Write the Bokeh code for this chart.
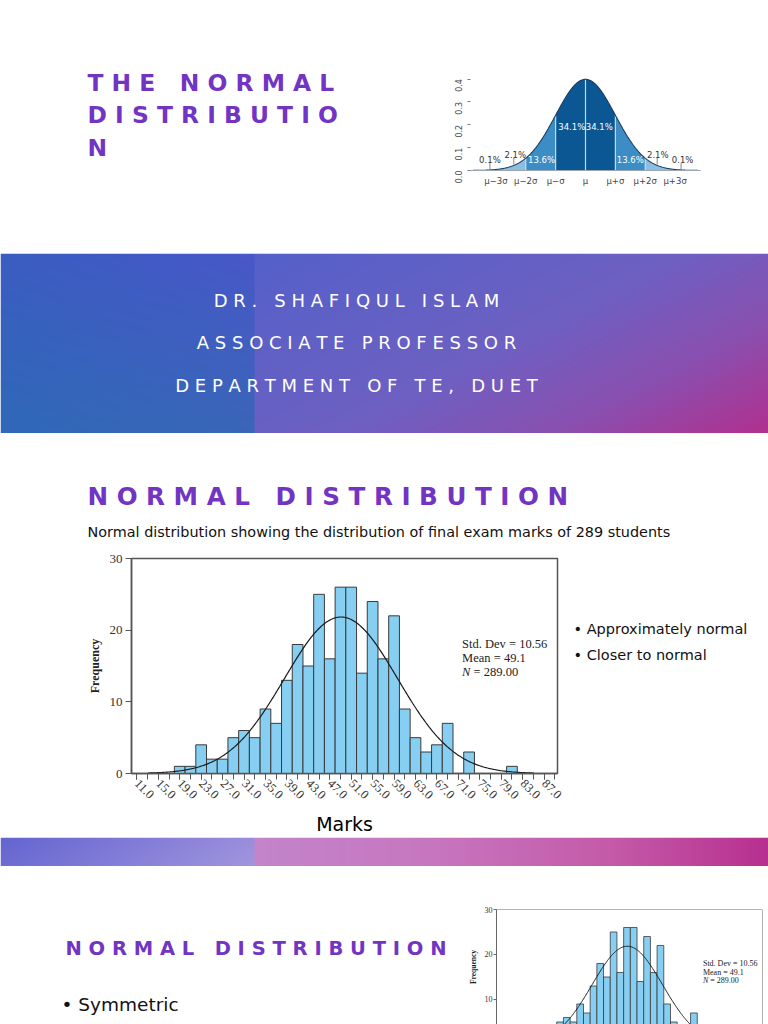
import numpy as np
from math import pi
from bokeh.plotting import figure
from bokeh.layouts import column, row
from bokeh.models import Range1d, FixedTicker, PrintfTickFormatter, Span
from bokeh.core.properties import value
from bokeh.embed import file_html
from bokeh.resources import INLINE

# ------------------------------------------------------------------ data
TITLE_LINES = ["THE NORMAL", "DISTRIBUTIO", "N"]
AUTHOR_LINES = ["DR. SHAFIQUL ISLAM", "ASSOCIATE PROFESSOR", "DEPARTMENT OF TE, DUET"]
SECTION_TITLE = "NORMAL DISTRIBUTION"
SUBTITLE = "Normal distribution showing the distribution of final exam marks of 289 students"
BULLETS_C = ["Approximately normal", "Closer to normal"]
BULLETS_E = ["Symmetric"]

SIGMA_TICKS = [-3, -2, -1, 0, 1, 2, 3]
SIGMA_LABELS = ["μ−3σ", "μ−2σ", "μ−σ", "μ", "μ+σ", "μ+2σ", "μ+3σ"]
PDF_TICKS = [0.0, 0.1, 0.2, 0.3, 0.4]
REGION_EDGES = [-3.85, -3, -2, -1, 0, 1, 2, 3, 3.85]
REGION_COLORS = ["#c6dcee", "#8dbde0", "#3c8dc5", "#0b5793",
                 "#0b5793", "#3c8dc5", "#8dbde0", "#c6dcee"]
DIVIDERS = [-2, -1, 0, 1, 2]
PCT_LABELS = ["0.1%", "2.1%", "13.6%", "34.1%", "34.1%", "13.6%", "2.1%", "0.1%"]
PCT_X = [-3.2, -2.35, -1.47, -0.46, 0.46, 1.5, 2.42, 3.25]
PCT_Y = [0.045, 0.07, 0.044, 0.19, 0.19, 0.044, 0.07, 0.045]
PCT_COLORS = ["#333333", "#333333", "white", "white", "white", "white", "#333333", "#333333"]
POINTER_X = [-3.2, -2.4, 2.4, 3.2]
POINTER_TOP = [0.032, 0.056, 0.056, 0.032]
POINTER_BOTTOM = [0.004, 0.026, 0.026, 0.004]

BIN_CENTERS = list(range(19, 70, 2)) + [73, 81]
COUNTS = [1, 1, 4, 2, 2, 5, 6, 5, 9, 7, 13, 18, 15, 25, 16, 26, 26, 14,
          24, 16, 22, 9, 5, 3, 4, 7, 3, 1]
BIN_WIDTH = 2
MEAN, STD_DEV, N_OBS = 49.1, 10.56, 289
X_MAJOR = list(range(11, 88, 4))
X_MINOR = list(range(11, 90, 2))
Y_TICKS = [0, 10, 20, 30]
STAT_LINES = ["Std. Dev = 10.56", "Mean = 49.1"]
STAT_N = "= 289.00"
STAT_X = 71.7
STAT_Y = [18.06, 16.1, 14.17]

PURPLE = "#7234c2"
BAR_FILL = "#87cff2"


# ------------------------------------------------------------------ helpers
def spaced(s):
    return " \u00a0 ".join(" ".join(w) for w in s.split(" "))


def npdf(x, mu=0.0, s=1.0):
    x = np.asarray(x, float)
    return np.exp(-0.5 * ((x - mu) / s) ** 2) / (s * np.sqrt(2 * np.pi))


def canvas(w, h, top=0, bottom=0):
    # a plain drawing area; its frame matches the borders of its row neighbour,
    # and data y = h - (pixels from the canvas top)
    p = figure(width=w, height=h, x_range=Range1d(0, w), y_range=Range1d(bottom, h - top),
               title=None, output_backend="svg", toolbar_location=None,
               x_axis_location=None, y_axis_location=None, min_border=0,
               min_border_top=top, min_border_bottom=bottom,
               outline_line_color=None, border_fill_color="white",
               background_fill_color="white")
    p.grid.visible = False
    return p


def txt(p, xs, tops, texts, size, color="black", font="DejaVu Sans", style="normal",
        align="left"):
    p.text(x=xs, y=[p.height - t for t in tops], text=texts, text_font=value(font),
           text_font_size=f"{size}px", text_font_style=style, text_color=color,
           text_align=align, text_baseline="middle")


def hex2rgb(h):
    return np.array([int(h[i:i + 2], 16) for i in (1, 3, 5)], float)


def bilinear(w, h, tl, tr, bl, br):
    u = np.linspace(0, 1, w)[None, :, None]
    v = np.linspace(0, 1, h)[:, None, None]
    tl, tr, bl, br = map(hex2rgb, (tl, tr, bl, br))
    return (1 - u) * (1 - v) * tl + u * (1 - v) * tr + (1 - u) * v * bl + u * v * br


def stops_grad(w, h, stops, wu, wv):
    u = np.linspace(0, 1, w)[None, :]
    v = np.linspace(0, 1, h)[:, None]
    t = np.clip(u * wu + v * wv, 0, 1)
    pos = [s[0] for s in stops]
    cols = np.array([hex2rgb(s[1]) for s in stops])
    out = np.zeros((h, w, 3))
    for c in range(3):
        out[..., c] = np.interp(t, pos, cols[:, c])
    return out


def to_rgba(arr):
    h, w = arr.shape[:2]
    img = np.empty((h, w), dtype=np.uint32)
    view = img.view(dtype=np.uint8).reshape((h, w, 4))
    view[..., :3] = np.clip(arr, 0, 255).astype(np.uint8)
    view[..., 3] = 255
    return np.ascontiguousarray(img[::-1])


def histogram(p, font_px, line_w):
    left = [c - BIN_WIDTH / 2 for c in BIN_CENTERS]
    right = [c + BIN_WIDTH / 2 for c in BIN_CENTERS]
    p.quad(left=left, right=right, bottom=0, top=COUNTS, fill_color=BAR_FILL,
           line_color="#3a3a3a", line_width=line_w)
    xs = np.linspace(MEAN - 3.41 * STD_DEV, MEAN + 3.41 * STD_DEV, 300)
    p.line(xs, N_OBS * BIN_WIDTH * npdf(xs, MEAN, STD_DEV), line_color="#1a1a1a",
           line_width=line_w * 1.2)
    common = dict(text_font=value("Liberation Serif"), text_font_size=f"{font_px}px",
                  text_color="#222222", text_baseline="middle")
    p.text(x=[STAT_X] * 2, y=STAT_Y[:2], text=STAT_LINES, **common)
    p.text(x=[STAT_X], y=[STAT_Y[2]], text=["N"], text_font_style="italic", **common)
    px_per_unit = (p.width - p.min_border_left - p.min_border_right) / 79.5
    n_w = (0.667 + 0.25) * font_px / px_per_unit
    p.text(x=[STAT_X + n_w], y=[STAT_Y[2]], text=[STAT_N], **common)


# ------------------------------------------------------------------ row A
A_H, A_TOP, A_BOTTOM = 253, 20, 83
fa = canvas(440, A_H, A_TOP, A_BOTTOM)
txt(fa, [87, 87, 87], [82, 114, 147], [spaced(t) for t in TITLE_LINES], 23.4,
    color=PURPLE, style="bold")

PX_PER_PDF = 96 / 0.42
fc = figure(width=328, height=A_H, x_range=Range1d(-3.85, 3.85),
            y_range=Range1d(0, (A_H - A_TOP - A_BOTTOM) / PX_PER_PDF),
            title=None, output_backend="svg", toolbar_location=None, min_border_left=30,
            min_border_right=68, min_border_top=A_TOP, min_border_bottom=A_BOTTOM,
            outline_line_color=None, background_fill_color="white", border_fill_color="white")
fc.grid.visible = False
for i in range(len(REGION_COLORS)):
    xs = np.linspace(REGION_EDGES[i], REGION_EDGES[i + 1], 40)
    fc.varea(x=xs, y1=np.zeros_like(xs), y2=npdf(xs), fill_color=REGION_COLORS[i])
fc.segment(x0=DIVIDERS, y0=[0] * len(DIVIDERS), x1=DIVIDERS, y1=list(npdf(DIVIDERS)),
           line_color="#c9d8e6", line_width=1.2)
xs_all = np.linspace(REGION_EDGES[0], REGION_EDGES[-1], 300)
fc.line(xs_all, npdf(xs_all), line_color="#1b3d5f", line_width=1.1)
fc.segment(x0=POINTER_X, y0=POINTER_BOTTOM, x1=POINTER_X, y1=POINTER_TOP,
           line_color="#666666", line_width=0.8)
fc.text(x=PCT_X, y=PCT_Y, text=PCT_LABELS, text_color=PCT_COLORS,
        text_font=value("DejaVu Sans"), text_font_size="8.5px",
        text_align="center", text_baseline="middle")
fc.xaxis.ticker = FixedTicker(ticks=SIGMA_TICKS)
fc.xaxis.major_label_overrides = {t: l for t, l in zip(SIGMA_TICKS, SIGMA_LABELS)}
fc.xaxis.major_tick_line_color = None
fc.xaxis.major_tick_out = 0
fc.xaxis.major_tick_in = 0
fc.xaxis.minor_tick_line_color = None
fc.xaxis.axis_line_color = "#9aa6b2"
fc.xaxis.major_label_standoff = 5
fc.xaxis.major_label_text_font = "DejaVu Sans"
fc.xaxis.major_label_text_font_size = "8.5px"
fc.xaxis.major_label_text_color = "#444444"
fc.yaxis.ticker = FixedTicker(ticks=PDF_TICKS)
fc.yaxis.formatter = PrintfTickFormatter(format="%.1f")
fc.yaxis.major_label_orientation = pi / 2
fc.yaxis.axis_line_color = None
fc.yaxis.minor_tick_line_color = None
fc.yaxis.major_tick_line_color = "#777777"
fc.yaxis.major_tick_out = 3
fc.yaxis.major_tick_in = 0
fc.yaxis.major_label_standoff = 9
fc.yaxis.major_label_text_font = "DejaVu Sans"
fc.yaxis.major_label_text_font_size = "8px"
fc.yaxis.major_label_text_color = "#444444"

# ------------------------------------------------------------------ row B (band)
B1H = 180
band1 = np.concatenate([
    bilinear(254, B1H, "#3b5dc2", "#4858c8", "#2f69b8", "#3a66b8"),
    stops_grad(514, B1H, [(0, "#5460ca"), (0.5, "#6e60c2"), (0.75, "#8a50b0"), (1, "#b2308f")],
               0.6, 0.4),
], axis=1)
fb = canvas(768, B1H)
fb.image_rgba(image=[to_rgba(band1)], x=0, y=0, dw=768, dh=B1H)
txt(fb, [356] * 3, [47, 89, 131.5], [spaced(t) for t in AUTHOR_LINES],
    18, color="white", align="center")

# ------------------------------------------------------------------ row C
fct = canvas(768, 115)
txt(fct, [87], [63], [spaced(SECTION_TITLE)], 24.6, color=PURPLE, style="bold")
txt(fct, [87], [98], [SUBTITLE], 14.4, color="#111111")

C_TOP, C_BOTTOM = 10, 63
H_W, H_RIGHT = 568, 11
fh = figure(width=H_W, height=289, x_range=Range1d(10, 89.5), y_range=Range1d(0, 30),
            title=None, output_backend="svg", toolbar_location=None, min_border_left=131,
            min_border_right=H_RIGHT, min_border_top=C_TOP, min_border_bottom=C_BOTTOM,
            outline_line_color="#555555", outline_line_width=1.5,
            background_fill_color="white", border_fill_color="white")
fh.grid.visible = False
histogram(fh, 12.5, 1.0)
fh.xaxis.ticker = FixedTicker(ticks=X_MAJOR, minor_ticks=X_MINOR)
fh.xaxis.formatter = PrintfTickFormatter(format="%.1f")
fh.xaxis.major_label_orientation = -pi / 4
fh.xaxis.major_tick_out = 6
fh.xaxis.major_tick_in = 0
fh.xaxis.minor_tick_out = 6
fh.xaxis.minor_tick_in = 0
fh.xaxis.major_label_standoff = 2
fh.xaxis.axis_label = "Marks"
fh.xaxis.axis_label_standoff = 7
fh.xaxis.axis_label_text_font = "DejaVu Sans"
fh.xaxis.axis_label_text_font_size = "19px"
fh.xaxis.axis_label_text_font_style = "normal"
fh.xaxis.axis_label_text_color = "black"
fh.yaxis.ticker = FixedTicker(ticks=Y_TICKS)
fh.yaxis.major_tick_out = 6
fh.yaxis.major_tick_in = 0
fh.yaxis.minor_tick_line_color = None
fh.yaxis.major_label_standoff = 3
fh.yaxis.axis_label = "Frequency"
fh.yaxis.axis_label_standoff = 5
fh.yaxis.axis_label_text_font = "Liberation Serif"
fh.yaxis.axis_label_text_font_size = "12px"
fh.yaxis.axis_label_text_font_style = "bold"
fh.yaxis.axis_label_text_color = "#222222"
for ax in (fh.xaxis, fh.yaxis):
    ax.axis_line_color = "#555555"
    ax.axis_line_width = 1.5
    ax.major_tick_line_color = "#555555"
    ax.major_label_text_font = "Liberation Serif"
    ax.major_label_text_color = "#333333"
fh.xaxis.minor_tick_line_color = "#555555"
fh.xaxis.major_label_text_font_size = "12.5px"
fh.yaxis.major_label_text_font_size = "13px"

fbul = canvas(768 - H_W, 289, C_TOP, C_BOTTOM)
txt(fbul, [573 - H_W] * 2, [81, 107], ["• " + b for b in BULLETS_C], 14.5, color="#111111")

# ------------------------------------------------------------------ row D (band)
B2H = 29
band2 = np.concatenate([
    bilinear(254, B2H, "#6565d0", "#9a8edc", "#6c6cd2", "#a096de"),
    stops_grad(514, B2H, [(0, "#c385ca"), (0.35, "#c776bf"), (0.7, "#c45aa8"), (1, "#b8308f")],
               1.0, 0.0),
], axis=1)
fb2 = canvas(768, B2H)
fb2.image_rgba(image=[to_rgba(band2)], x=0, y=0, dw=768, dh=B2H)

# ------------------------------------------------------------------ row E
E_TOP, E_BOTTOM = 43, 0
fe = canvas(460, 158, E_TOP, E_BOTTOM)
txt(fe, [65], [82], [spaced(SECTION_TITLE)], 19.5, color=PURPLE, style="bold")
txt(fe, [61], [138], ["• " + b for b in BULLETS_E], 18.5, color="#111111")

fs = figure(width=308, height=158, x_range=Range1d(10, 89.5), y_range=Range1d(4.44, 30),
            title=None, output_backend="svg", toolbar_location=None, x_axis_location=None,
            min_border_left=36, min_border_right=6, min_border_top=E_TOP,
            min_border_bottom=E_BOTTOM,
            outline_line_color=None, background_fill_color="white", border_fill_color="white")
fs.grid.visible = False
histogram(fs, 8, 0.8)
fs.yaxis.ticker = FixedTicker(ticks=Y_TICKS)
fs.yaxis.major_tick_out = 3
fs.yaxis.major_tick_in = 0
fs.yaxis.minor_tick_line_color = None
fs.yaxis.major_label_standoff = 1
fs.yaxis.axis_line_color = "#666666"
fs.yaxis.major_tick_line_color = "#666666"
fs.yaxis.major_label_text_font = "Liberation Serif"
fs.yaxis.major_label_text_font_size = "8px"
fs.yaxis.major_label_text_color = "#333333"
fs.yaxis.axis_label = "Frequency"
fs.yaxis.axis_label_standoff = 4
fs.yaxis.axis_label_text_font = "Liberation Serif"
fs.yaxis.axis_label_text_font_size = "7.5px"
fs.yaxis.axis_label_text_font_style = "bold"
fs.yaxis.axis_label_text_color = "#222222"
fs.add_layout(Span(location=30, dimension="width", line_color="#666666", line_width=1))
fs.add_layout(Span(location=89.5, dimension="height", line_color="#666666", line_width=1))

layout = column(
    row(fa, fc, spacing=0),
    fb,
    fct,
    row(fh, fbul, spacing=0),
    fb2,
    row(fe, fs, spacing=0),
    spacing=0,
)

open("out.html", "w").write(file_html(layout, INLINE))
